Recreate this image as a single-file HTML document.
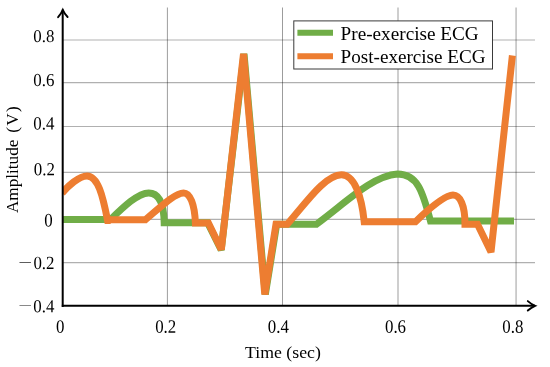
<!DOCTYPE html>
<html><head><meta charset="utf-8"><title>ECG</title>
<style>
html,body{margin:0;padding:0;background:#fff;}
svg{display:block;}
text{font-family:"Liberation Serif",serif;fill:#000;}
.t{font-size:17.4px;}
.g{stroke:#adadad;stroke-width:1;fill:none;}
</style></head><body>
<svg width="550" height="367" viewBox="0 0 550 367">
<rect width="550" height="367" fill="#fff"/>
<!-- grid -->
<g class="g">
<path d="M63 40H535M63 82.6H535M63 126.5H535M63 172.4H535M63 219.4H535M63 262.6H535" stroke="#000" stroke-opacity=".31" stroke-width="1.2"/>
<path d="M167.4 7.5V305M282.5 7.5V305M398 7.5V305M516.05 7.5V305" stroke="#000" stroke-opacity=".39"/>
</g>
<!-- series -->
<clipPath id="cp"><rect x="63" y="0" width="487" height="367"/></clipPath>
<g fill="none" stroke-width="7" stroke-linejoin="miter" stroke-miterlimit="3" clip-path="url(#cp)">
<path id="green" stroke="#70AD47" d="M63 219.5H110.5 C124 206.5 138 193 148.7 192.9 C156.5 192.9 163.8 199 164.2 222.8 H207.6 L221.2 250 L244 53.8 L265.3 294.5 L276.7 224.2 H316.5 C346 202.5 372 176 397.5 174.1 C417.5 174.1 422.7 191.5 430.5 221.1 H514"/>
<path id="orange" stroke="#ED7D31" d="M62 193.2 C68 186 79 175.9 87 175.9 C98 176 102.8 196 107.6 220.5 L109 220.5 L110 219.7 H145.5 C160.5 207 175 192.9 183.6 192.9 C190 192.9 194.6 204 195.4 222.9 H208.4 L221.3 249.6 L243.5 53.8 L264.8 294.5 L276 224.2 H287.3 C306.3 202.4 325 175 341.5 174.8 C354 174.8 361.5 195 364.2 221.7 H415.5 C430.5 207.4 445.5 195 453 195.1 C460 195.2 465 205 465 224.2 H477.5 L491 252 L512.4 55.5"/>
</g>
<!-- axes -->
<g stroke="#000" stroke-width="2" fill="none">
<path d="M62.7 306.9V9.5"/>
<path d="M61.8 305.8H535"/>
<path d="M58.1 17.2Q61.2 13.7 62.8 9.9Q64.4 13.7 67.6 17" stroke-width="1.9" stroke-linecap="round" stroke-linejoin="miter" stroke-miterlimit="10"/>
<path d="M527.8 301.1Q531.3 304.2 535.1 305.8Q531.3 307.4 527.8 310.5" stroke-width="1.9" stroke-linecap="round" stroke-linejoin="miter" stroke-miterlimit="10"/>
</g>
<!-- y labels -->
<g class="t">
<text transform="translate(54.4 41.9) rotate(0.03) scale(0.97 1.03)" text-anchor="end">0.8</text>
<text transform="translate(54.4 85.9) rotate(0.03) scale(0.97 1.05)" text-anchor="end">0.6</text>
<text transform="translate(54.4 129.6) rotate(0.03) scale(0.97 1.08)" text-anchor="end">0.4</text>
<text transform="translate(54.9 175.3) rotate(0.03) scale(0.97 1.06)" text-anchor="end">0.2</text>
<text transform="translate(52.6 226.6) rotate(0.03) scale(0.97 1.1)" text-anchor="end">0</text>
<text transform="translate(54.5 268.9) rotate(0.03) scale(0.97 1.07)" text-anchor="end">0.2</text>
<text transform="translate(54.4 312.2) rotate(0.03) scale(0.97 1.06)" text-anchor="end">0.4</text>
<text transform="translate(32.1 267.6) scale(1.42 1)" text-anchor="end" style="fill:#444">−</text>
<text transform="translate(32.1 311.0) scale(1.42 1)" text-anchor="end" style="fill:#777">−</text>
</g>
<g class="t">
<text transform="translate(60.3 332.7) rotate(0.03) scale(0.97 1.09)" text-anchor="middle">0</text>
<text transform="translate(165.7 332.7) rotate(0.03) scale(0.97 1.09)" text-anchor="middle">0.2</text>
<text transform="translate(278.4 332.7) rotate(0.03) scale(0.97 1.09)" text-anchor="middle">0.4</text>
<text transform="translate(395.5 332.7) rotate(0.03) scale(0.97 1.09)" text-anchor="middle">0.6</text>
<text transform="translate(512.9 332.7) rotate(0.03) scale(0.97 1.09)" text-anchor="middle">0.8</text>
</g>
<text transform="translate(245.1 358) scale(0.992 0.93)" style="font-size:17.9px">Time (sec)</text>
<text transform="translate(18 213.1) rotate(-90) scale(0.96 0.9)" style="font-size:17.9px">Amplitude <tspan dx="2.8" letter-spacing="1.3">(V)</tspan></text>
<!-- legend -->
<rect x="293.8" y="20.9" width="198.7" height="48.1" fill="#fff" stroke="#3a3a3a" stroke-width="1"/>
<path d="M297.4 32.7H333" stroke="#70AD47" stroke-width="6" fill="none"/>
<path d="M297.4 56.3H333" stroke="#ED7D31" stroke-width="6" fill="none"/>
<text transform="translate(340.6 39.6) scale(0.998 0.95)" style="font-size:19.25px">Pre-exercise ECG</text>
<text transform="translate(340.6 62.9) scale(0.994 0.95)" style="font-size:19.25px">Post-exercise ECG</text>
</svg>
</body></html>
